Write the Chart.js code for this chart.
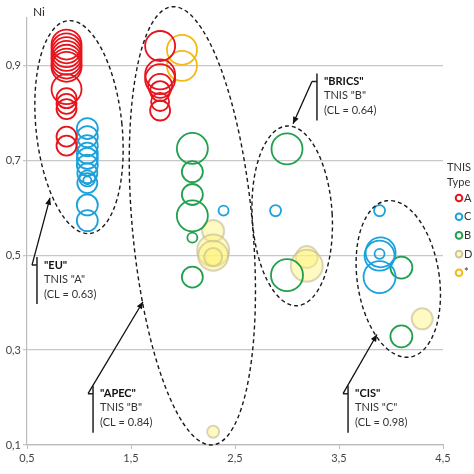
<!DOCTYPE html>
<html>
<head>
<meta charset="utf-8">
<script src="https://cdn.jsdelivr.net/npm/chart.js@4"></script>
<style>
  html, body { margin: 0; padding: 0; background: #fff; }
</style>
</head>
<body>
<canvas id="chart" width="474" height="474"></canvas>
<script>
// axis ticks
const xTicks = [0.5, 1.5, 2.5, 3.5, 4.5];
const yTicks = [0.1, 0.3, 0.5, 0.7, 0.9];

// TNIS type A (red)
const aX = [0.88, 0.88, 0.88, 0.88, 0.88, 0.88, 0.88, 0.88, 0.88, 0.88, 0.88, 0.88, 0.88,
            1.78, 1.78, 1.78, 1.78, 1.78, 1.78, 1.78];
const aY = [0.944, 0.936, 0.928, 0.92, 0.912, 0.904, 0.897, 0.85, 0.831, 0.819, 0.808, 0.75, 0.731,
            0.941, 0.881, 0.871, 0.857, 0.846, 0.823, 0.805];
const aR = [15, 15, 15, 15, 15, 15, 15, 15, 10, 10, 10, 10, 10,
            15, 15, 15, 12, 10, 9, 10];

// TNIS type C (blue)
const cX = [1.08, 1.08, 1.08, 1.08, 1.08, 1.08, 1.08, 1.08, 1.08, 1.08, 1.08, 1.08,
            2.39, 2.89, 3.89, 3.89, 3.9, 3.89, 3.89];
const cY = [0.767, 0.75, 0.731, 0.715, 0.704, 0.69, 0.673, 0.662, 0.658, 0.652, 0.606, 0.573,
            0.594, 0.594, 0.594, 0.499, 0.506, 0.503, 0.454];
const cR = [10.5, 10.5, 10.5, 10.5, 10.5, 10.5, 10, 8, 4, 10, 10.5, 10.5,
            5, 5.5, 5.5, 15, 15, 5, 16];

// TNIS type B (green)
const bX = [2.09, 2.09, 2.09, 2.09, 2.09, 2.09, 3.0, 3.0, 4.1, 4.1];
const bY = [0.725, 0.676, 0.628, 0.583, 0.537, 0.454, 0.724, 0.458, 0.474, 0.329];
const bR = [15.5, 10.5, 10.5, 15.5, 5, 10.5, 15.5, 16, 11, 11];

// TNIS type D (beige)
const dX = [2.29, 2.29, 2.29, 2.29, 2.29, 3.19, 3.19, 4.3];
const dY = [0.551, 0.51, 0.499, 0.496, 0.128, 0.496, 0.478, 0.366];
const dR = [11, 16, 15, 9, 6, 11, 16, 10.5];

// TNIS type * (gold)
const sX = [1.99, 1.99];
const sY = [0.933, 0.899];
const sR = [15, 15];

const typeNames = ['A', 'C', 'B', 'D', '*'];

// cluster annotations (centre in data units, semi axes in px)
const groups = [
  { name: 'EU',    cx: 1.0,  cy: 0.77,  a: 107, b: 43, rot: -5.9 },
  { name: 'APEC',  cx: 2.09, cy: 0.562, a: 220, b: 60, rot: -5.3 },
  { name: 'BRICS', cx: 3.05, cy: 0.583, a: 90,  b: 40, rot: -3.2 },
  { name: 'CIS',   cx: 4.07, cy: 0.45,  a: 79,  b: 41, rot: -8.5 }
];
const callouts = [
  { title: '"BRICS"', sub: 'TNIS "B"', cl: '(CL = 0.64)', bx: 3.288, by: 0.883, tx: 3.058, ty: 0.777 },
  { title: '"EU"',    sub: 'TNIS "A"', cl: '(CL = 0.63)', bx: 0.596, by: 0.496, tx: 0.721, ty: 0.621 },
  { title: '"APEC"',  sub: 'TNIS "B"', cl: '(CL = 0.84)', bx: 1.135, by: 0.225, tx: 1.615, ty: 0.402 },
  { title: '"CIS"',   sub: 'TNIS "C"', cl: '(CL = 0.98)', bx: 3.587, by: 0.225, tx: 3.865, ty: 0.333 }
];

const FONT = 'Lato, "Liberation Sans", sans-serif';

function pts(xs, ys, rs) {
  return xs.map((v, i) => ({ x: v, y: ys[i], r: rs[i] }));
}

const styles = [
  { border: '#e8141c', fill: 'rgba(0,0,0,0)' },
  { border: '#1ba1dc', fill: 'rgba(0,0,0,0)' },
  { border: '#22a04e', fill: 'rgba(0,0,0,0)' },
  { border: 'rgba(195,185,145,0.6)', fill: 'rgba(255,245,120,0.45)' },
  { border: '#f5b914', fill: 'rgba(0,0,0,0)' }
];
const allData = [pts(aX, aY, aR), pts(cX, cY, cR), pts(bX, bY, bR), pts(dX, dY, dR), pts(sX, sY, sR)];

const datasets = typeNames.map((t, i) => ({
  label: t,
  data: allData[i],
  borderColor: styles[i].border,
  backgroundColor: styles[i].fill,
  borderWidth: i === 3 ? 2 : 1.8
}));

const overlay = {
  id: 'overlay',
  afterDraw(chart) {
    const ctx = chart.ctx;
    const x = chart.scales.x, y = chart.scales.y;
    ctx.save();

    // dashed ellipses
    ctx.setLineDash([4, 3]);
    ctx.lineWidth = 1.4;
    ctx.strokeStyle = '#1a1a1a';
    groups.forEach(g => {
      ctx.beginPath();
      ctx.ellipse(x.getPixelForValue(g.cx), y.getPixelForValue(g.cy), g.b, g.a, g.rot * Math.PI / 180, 0, Math.PI * 2);
      ctx.stroke();
    });
    ctx.setLineDash([]);

    // callouts
    callouts.forEach(c => {
      const bx = x.getPixelForValue(c.bx), by = y.getPixelForValue(c.by);
      const tx = x.getPixelForValue(c.tx), ty = y.getPixelForValue(c.ty);
      const hx = bx - 5, hy = by + 8;
      ctx.strokeStyle = '#222';
      ctx.lineWidth = 1.5;
      ctx.beginPath();
      ctx.moveTo(bx, by); ctx.lineTo(bx, by + 47);
      ctx.moveTo(bx, hy); ctx.lineTo(hx, hy);
      ctx.stroke();
      ctx.lineWidth = 1.3;
      ctx.strokeStyle = '#111';
      ctx.beginPath();
      ctx.moveTo(hx, hy); ctx.lineTo(tx, ty);
      ctx.stroke();
      const ang = Math.atan2(ty - hy, tx - hx);
      ctx.fillStyle = '#111';
      ctx.beginPath();
      ctx.moveTo(tx, ty);
      ctx.lineTo(tx - 7 * Math.cos(ang) + 3 * Math.sin(ang), ty - 7 * Math.sin(ang) - 3 * Math.cos(ang));
      ctx.lineTo(tx - 7 * Math.cos(ang) - 3 * Math.sin(ang), ty - 7 * Math.sin(ang) + 3 * Math.cos(ang));
      ctx.closePath();
      ctx.fill();

      ctx.textAlign = 'left';
      ctx.textBaseline = 'middle';
      ctx.fillStyle = '#111';
      ctx.font = 'bold 11px ' + FONT;
      ctx.fillText(c.title, bx + 7, by + 8);
      ctx.fillStyle = '#333';
      ctx.font = '11px ' + FONT;
      ctx.fillText(c.sub, bx + 7, by + 22);
      ctx.fillText(c.cl, bx + 7, by + 37);
    });

    // axis title
    ctx.fillStyle = '#333';
    ctx.font = '12px ' + FONT;
    ctx.textAlign = 'left';
    ctx.textBaseline = 'middle';
    ctx.fillText('Ni', 33, 12);

    // legend
    const lx = chart.chartArea.right + 4;
    ctx.font = '11px ' + FONT;
    ctx.fillStyle = '#333';
    ctx.fillText('TNIS', lx, 167);
    ctx.fillText('Type', lx, 182);
    typeNames.forEach((t, i) => {
      const ly = 198 + i * 18.7;
      ctx.beginPath();
      ctx.arc(lx + 12, ly, 3.3, 0, Math.PI * 2);
      ctx.lineWidth = 2;
      ctx.strokeStyle = i === 3 ? 'rgba(195,185,145,0.8)' : styles[i].border;
      ctx.fillStyle = i === 3 ? 'rgba(255,245,120,0.45)' : '#fff';
      ctx.fill();
      ctx.stroke();
      ctx.fillStyle = '#333';
      ctx.fillText(t, lx + 17, ly);
    });
    ctx.restore();
  }
};

const fmt = v => Number(v).toFixed(1).replace('.', ',');

new Chart(document.getElementById('chart'), {
  type: 'bubble',
  data: { datasets },
  options: {
    responsive: false,
    animation: false,
    events: [],
    layout: { padding: { top: 13, right: 31, left: 0, bottom: 0 } },
    plugins: { legend: { display: false }, tooltip: { enabled: false } },
    scales: {
      x: {
        type: 'linear', min: 0.5, max: 4.5,
        afterBuildTicks: s => { s.ticks = xTicks.map(v => ({ value: v })); },
        afterFit: s => { s.height = 29; },
        ticks: { callback: fmt, color: '#444', font: { family: FONT, size: 11 }, padding: 3, maxRotation: 0 },
        grid: { drawOnChartArea: false, drawTicks: true, tickLength: 4, color: '#bbb' },
        border: { color: '#bbb', width: 1.2 }
      },
      y: {
        type: 'linear', min: 0.1, max: 1.0,
        afterBuildTicks: s => { s.ticks = yTicks.map(v => ({ value: v })); },
        afterFit: s => { s.width = 27; },
        ticks: { callback: fmt, color: '#444', font: { family: FONT, size: 11 }, padding: 2 },
        grid: { color: '#c8c8c8', lineWidth: 1.3, tickLength: 4 },
        border: { color: '#bbb', width: 1.2 }
      }
    }
  },
  plugins: [overlay]
});
</script>
</body>
</html>
